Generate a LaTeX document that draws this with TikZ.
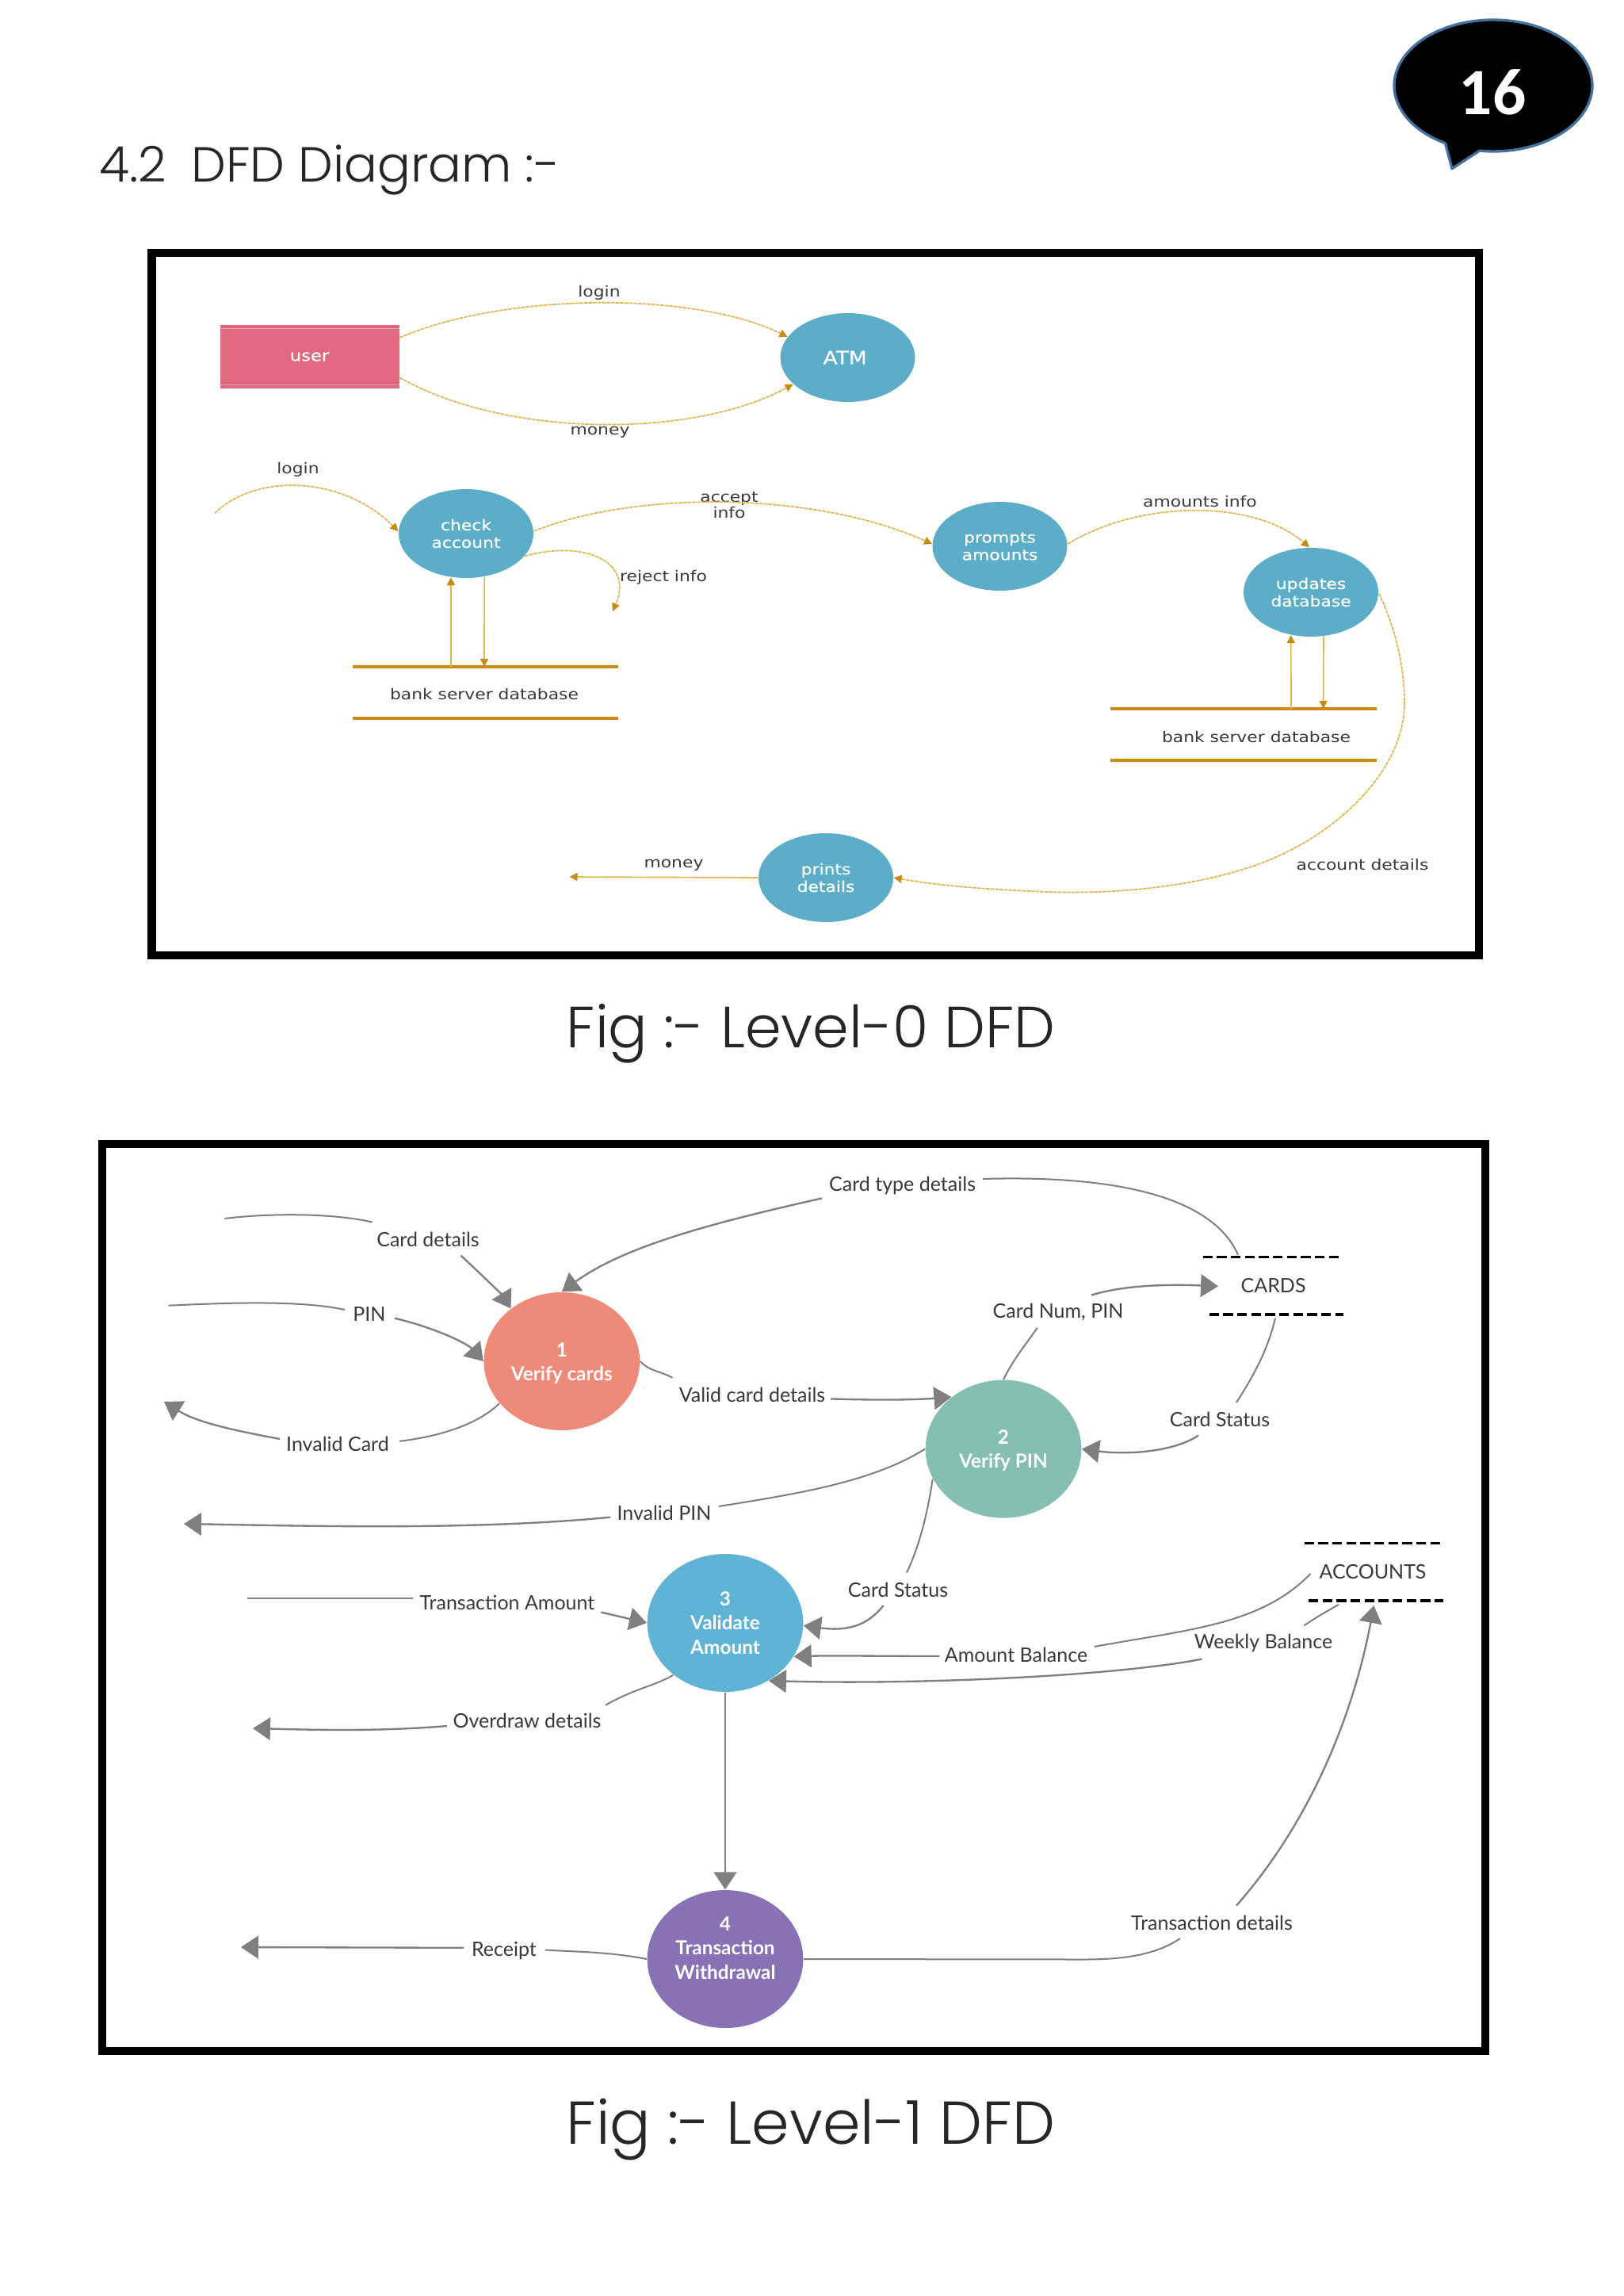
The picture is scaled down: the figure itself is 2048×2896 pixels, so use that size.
\documentclass[tikz,border=0pt]{standalone}
\usepackage{fontspec}
\usetikzlibrary{shapes.geometric,arrows.meta,calc}
\newfontfamily\headfont{Poppins Light}
\newfontfamily\latofont{Lato}
\newfontfamily\dvfont[FakeStretch=1.17]{DejaVu Sans}
\newfontfamily\dvwhite[FakeStretch=1.17,FakeBold=0.5]{DejaVu Sans}
\newfontfamily\carfont{Carlito}
\definecolor{flowgray}{HTML}{7F7F7F}
\definecolor{goldline}{HTML}{E0B650}
\definecolor{goldtip}{HTML}{C88A10}
\definecolor{storegold}{HTML}{CC8A14}
\definecolor{tealz}{HTML}{5CADC8}
\definecolor{pinkz}{HTML}{E0697F}
\definecolor{pinkl}{HTML}{F0A6B4}
\definecolor{pOne}{HTML}{F08A78}
\definecolor{pTwo}{HTML}{85BFB3}
\definecolor{pThree}{HTML}{5FB4D6}
\definecolor{pFour}{HTML}{8872B5}
\definecolor{txtz}{HTML}{3A3A3A}
\definecolor{badgeline}{HTML}{41719C}
\tikzset{
 headtxt/.style={font=\headfont\fontsize{22}{24}\selectfont,text=black!85,inner sep=0},
 titletxt/.style={font=\headfont\fontsize{18.6}{22}\selectfont,text=black!85,inner sep=0},
 framebox/.style={draw=black,line width=3.2pt},
 lzproc/.style={ellipse,fill=tealz,minimum width=51pt,minimum height=33.6pt,inner sep=0,text=white,align=center,font=\dvwhite\fontsize{5.6}{6.6}\selectfont},
 lztxt/.style={font=\dvfont\fontsize{5.6}{6.2}\selectfont,text=txtz,inner sep=0,align=center},
 lzflow/.style={draw=goldline,line width=0.5pt,-{Triangle[length=3pt,width=3pt,color=goldtip]}},
 lzcurve/.style={lzflow,dash pattern=on 1.4pt off 0.3pt},
 lzstore/.style={draw=storegold,line width=1.1pt},
 proc/.style={ellipse,minimum width=59pt,minimum height=52.2pt,inner sep=0,text=white,align=center,font=\latofont\bfseries\fontsize{7.3}{9.1}\selectfont},
 ltxt/.style={font=\latofont\fontsize{7.5}{9}\selectfont,text=txtz,inner sep=0},
 flowline/.style={draw=flowgray,line width=0.6pt},
 flowtip/.style={draw=flowgray,line width=0.7pt,-{Triangle[length=6.6pt,width=8.6pt,color=flowgray]}},
 dstore/.style={draw=black,line width=1pt,dash pattern=on 3.7pt off 1.6pt},
}
\begin{document}
\begin{tikzpicture}[x=0.3pt,y=-0.3pt]
\useasboundingbox[fill=white] (0,0) rectangle (2048,2896);
% page badge
\draw[fill=black,draw=badgeline,line width=1pt,line join=round]
  plot[domain=98:-241,samples=90] ({1884+125*cos(\x)},{108+83*sin(\x)}) -- (1832,212.7) -- cycle;
\node[font=\carfont\bfseries\fontsize{25}{28}\selectfont,text=white,inner sep=0] (badge) at (1883,116) {16};
% headings
\node[titletxt,anchor=west] (title) at (125,215) {4.2\hspace{0.5em}DFD Diagram :-};
\node[headtxt] (capz) at (1023,1304) {Fig :- Level-0 DFD};
\node[headtxt,font=\headfont\fontsize{22.9}{24}\selectfont] (capo) at (1023,2686) {Fig :- Level-1 DFD};
% frames
\draw[framebox] (191.5,319) rectangle (1866,1205);
\draw[framebox] (129,1443) rectangle (1874,2587);

% ---------- Level 0 ----------
\node[rectangle,fill=pinkz,minimum width=67.8pt,minimum height=24pt,inner sep=0,text=white,font=\dvwhite\fontsize{5.8}{6.6}\selectfont] (user) at (390.5,450) {user\hspace{1pt}};
\draw[draw=pinkl,line width=0.4pt] ($(user.north west)+(0,5)$) -- ($(user.north east)+(0,5)$);
\draw[draw=pinkl,line width=0.4pt] ($(user.south west)+(0,-5)$) -- ($(user.south east)+(0,-5)$);
\node[lzproc,font=\dvwhite\fontsize{6.8}{7}\selectfont] (atm) at (1069.5,451) {ATM\hspace{2pt}};
\node[lzproc] (chk) at (588,673) {check\hspace{1pt}\\account\hspace{1pt}};
\node[lzproc] (prm) at (1261.5,689) {prompts\hspace{1pt}\\amounts\hspace{1pt}};
\node[lzproc] (upd) at (1654,747) {updates\\database};
\node[lzproc] (prn) at (1042,1107) {prints\\details};
\coordinate (sa1) at (445,841); \coordinate (sa2) at (780,841);
\coordinate (sa3) at (445,906); \coordinate (sa4) at (780,906);
\coordinate (sb1) at (1401,894); \coordinate (sb2) at (1736.5,894);
\coordinate (sb3) at (1401,959); \coordinate (sb4) at (1736.5,959);
\draw[lzstore] (sa1) -- (sa2); \draw[lzstore] (sa3) -- (sa4);
\draw[lzstore] (sb1) -- (sb2); \draw[lzstore] (sb3) -- (sb4);
\node[lztxt] (dba) at (611,876) {bank server database};
\node[lztxt] (dbb) at (1585,930) {bank server database};
\node[lztxt] (l0a) at (756,369) {login};
\node[lztxt] (l0b) at (757,545) {money};
\node[lztxt] (l0c) at (376,592) {login};
\node[lztxt,font=\dvfont\fontsize{5.6}{6}\selectfont] (l0d) at (920,637) {accept\\info};
\node[lztxt] (l0e) at (1514,633) {amounts info};
\node[lztxt] (l0f) at (837,728.5) {reject info};
\node[lztxt] (l0g) at (1719,1091) {account details};
\node[lztxt] (l0h) at (850,1091) {money};
\draw[lzcurve] (user.12.5) .. controls (640,368) and (878,368) .. (atm.161.5);
\draw[lzcurve] (user.347.5) .. controls (640,553) and (875,553) .. (atm.206.7);
\coordinate (lgstart) at (271,647.5);
\draw[lzcurve] (lgstart) .. controls (320,598) and (430,598) .. (chk.178);
\draw[lzcurve] (chk.2) .. controls (800,619) and (1026,619) .. (prm.178);
\draw[lzcurve] (prm.2) .. controls (1440,630) and (1582,630) .. (upd.92);
\coordinate (rjend) at (773,771);
\draw[lzcurve] (chk.339) .. controls (740,680) and (800,710) .. (rjend);
\coordinate (upa) at (569,841); \coordinate (dna) at (611,841);
\coordinate (upb) at (1629,894); \coordinate (dnb) at (1669.6,894);
\draw[lzflow] (upa) -- (chk.251);
\draw[lzflow] (chk.293) -- (dna);
\draw[lzflow] (upb) -- (upd.245);
\draw[lzflow] (upd.286) -- (dnb);
\draw[lzcurve] (upd.359) .. controls (1760,790) and (1772,840) .. (1772,887)
  .. controls (1772,970) and (1690,1050) .. (1596,1087)
  .. controls (1510,1120) and (1400,1128) .. (1322,1125)
  .. controls (1250,1122) and (1190,1118) .. (prn.0);
\coordinate (mnend) at (718.5,1106);
\draw[lzflow] (prn.180) -- (mnend);

% ---------- Level 1 ----------
\node[proc,fill=pOne] (v1) at (708.8,1717) {\rule{0pt}{7pt}1\\Verify cards};
\node[proc,fill=pTwo] (v2) at (1266,1827.6) {\rule{0pt}{6.4pt}2\\Verify PIN};
\node[proc,fill=pThree] (v3) at (915,2047) {3\\Validate\\Amount};
\node[proc,fill=pFour] (v4) at (915,2471) {4\\Transaction\\Withdrawal\\[-0.7pt]\mbox{}};
\node[ltxt] (cards) at (1606.6,1622) {CARDS};
\node[ltxt] (accts) at (1732,1983) {ACCOUNTS};
\coordinate (ca1) at (1517.6,1585.6); \coordinate (ca2) at (1693,1585.6);
\coordinate (ca3) at (1525.6,1658); \coordinate (ca4) at (1694.5,1658);
\coordinate (ac1) at (1645.5,1946.7); \coordinate (ac2) at (1819,1946.7);
\coordinate (ac3) at (1651,2019); \coordinate (ac4) at (1821,2019);
\draw[dstore] (ca1) -- (ca2); \draw[dstore] (ca3) -- (ca4);
\draw[dstore] (ac1) -- (ac2); \draw[dstore] (ac3) -- (ac4);
\node[ltxt] (t1) at (1138.6,1495.4) {Card type details};
\node[ltxt] (t2) at (540,1563) {Card details};
\node[ltxt] (t3) at (466,1658) {PIN};
\node[ltxt] (t4) at (426,1821.6) {Invalid Card};
\node[ltxt] (t5) at (949,1759.6) {Valid card details};
\node[ltxt] (t6) at (1335,1655) {Card Num, PIN};
\node[ltxt] (t7) at (1539,1790) {Card Status};
\node[ltxt] (t8) at (838,1908) {Invalid PIN};
\node[ltxt] (t9) at (1133,2005) {Card Status};
\node[ltxt] (t10) at (640,2021) {Transaction Amount};
\node[ltxt] (t11) at (1282,2087) {Amount Balance};
\node[ltxt] (t12) at (1594,2072) {Weekly Balance};
\node[ltxt] (t13) at (665,2170) {Overdraw details};
\node[ltxt] (t14) at (636,2460) {Receipt};
\node[ltxt] (t15) at (1529,2425.6) {Transaction details};
% card details
\coordinate (a1) at (283.5,1537); \coordinate (a2) at (469.6,1541.5); \coordinate (a3) at (581.5,1583.6);
\draw[flowline] (a1) .. controls (340,1530) and (420,1530) .. (a2);
\draw[flowtip] (a3) .. controls (610,1610) and (635,1635) .. (v1.134);
% PIN
\coordinate (b1) at (212.7,1646.7); \coordinate (b2) at (435,1652); \coordinate (b3) at (498,1662.7);
\draw[flowline] (b1) .. controls (290,1643) and (380,1640) .. (b2);
\draw[flowtip] (b3) .. controls (550,1675) and (590,1695) .. (v1.180);
% invalid card
\coordinate (c1) at (504,1817.8); \coordinate (c2) at (353,1815); \coordinate (c3) at (207,1768);
\draw[flowline] (v1.214) .. controls (610,1790) and (570,1810) .. (c1);
\draw[flowtip] (c2) .. controls (300,1805) and (250,1795) .. (c3);
% card type
\coordinate (d1) at (1562,1582.7); \coordinate (d2) at (1240,1487); \coordinate (d3) at (1037,1511.4);
\draw[flowline] (d1) .. controls (1530,1510) and (1410,1482) .. (d2);
\draw[flowtip] (d3) .. controls (910,1540) and (790,1570) .. (v1.90);
% valid card
\coordinate (e1) at (848.6,1737.8); \coordinate (e2) at (1048,1764.4);
\draw[flowline] (v1.0) .. controls (820,1730) and (830,1728) .. (e1);
\draw[flowtip] (e2) .. controls (1100,1766) and (1150,1766) .. (v2.135);
% card num
\coordinate (f1) at (1308.7,1674.8); \coordinate (f2) at (1377,1633.6); \coordinate (f3) at (1537,1622.4);
\draw[flowline] (v2.90) .. controls (1280,1712) and (1295,1695) .. (f1);
\draw[flowtip] (f2) .. controls (1420,1620) and (1480,1620) .. (f3);
% card status 1
\coordinate (g1) at (1609,1662.7); \coordinate (g2) at (1560,1769); \coordinate (g3) at (1512,1810.5);
\draw[flowline] (g1) .. controls (1600,1700) and (1585,1730) .. (g2);
\draw[flowtip] (g3) .. controls (1480,1832) and (1420,1835) .. (v2.0);
% invalid PIN
\coordinate (h1) at (907,1900); \coordinate (h2) at (770,1913.7); \coordinate (h3) at (232,1922);
\draw[flowline] (v2.180) .. controls (1100,1870) and (1000,1885) .. (h1);
\draw[flowtip] (h2) .. controls (600,1930) and (400,1925) .. (h3);
% card status 2
\coordinate (i1) at (1144,1983.5); \coordinate (i2) at (1114.6,2025);
\draw[flowline] (v2.203) .. controls (1170,1910) and (1160,1950) .. (i1);
\draw[flowtip] (i2) .. controls (1095,2050) and (1070,2058) .. (v3.358);
% transaction amount
\coordinate (j1) at (312,2015.5); \coordinate (j2) at (521,2015.5); \coordinate (j3) at (758.4,2033.5);
\draw[flowline] (j1) -- (j2);
\draw[flowtip] (j3) -- (v3.180);
% amount balance
\coordinate (k1) at (1653.5,1985); \coordinate (k2) at (1380.6,2077); \coordinate (k3) at (1185.4,2089);
\draw[flowline] (k1) .. controls (1590,2050) and (1500,2055) .. (k2);
\draw[flowtip] (k3) .. controls (1130,2089) and (1050,2088) .. (v3.334);
% weekly balance
\coordinate (m1) at (1689,2023.8); \coordinate (m2) at (1645.5,2050.4); \coordinate (m3) at (1516.5,2092.6);
\draw[flowline] (m1) .. controls (1675,2032) and (1660,2040) .. (m2);
\draw[flowtip] (m3) .. controls (1400,2115) and (1150,2125) .. (v3.307);
% overdraw
\coordinate (n1) at (764,2150.7); \coordinate (n2) at (564,2177); \coordinate (n3) at (319,2180);
\draw[flowline] (v3.225) .. controls (830,2125) and (800,2130) .. (n1);
\draw[flowtip] (n2) .. controls (480,2184) and (400,2182) .. (n3);
% 3 to 4
\draw[flowtip] (v3.270) -- (v4.90);
% receipt
\coordinate (o1) at (687.6,2459.5); \coordinate (o2) at (585,2456.8); \coordinate (o3) at (304,2456);
\draw[flowline] (v4.180) .. controls (770,2462) and (730,2462) .. (o1);
\draw[flowtip] (o2) -- (o3);
% transaction details
\coordinate (q1) at (1489,2445); \coordinate (q2) at (1560,2403.5); \coordinate (q3) at (1733.4,2025);
\draw[flowline] (v4.0) -- (1366,2471.5) .. controls (1410,2471.5) and (1455,2468) .. (q1);
\draw[flowtip] (q2) .. controls (1660,2290) and (1710,2150) .. (q3);
\end{tikzpicture}
\end{document}
